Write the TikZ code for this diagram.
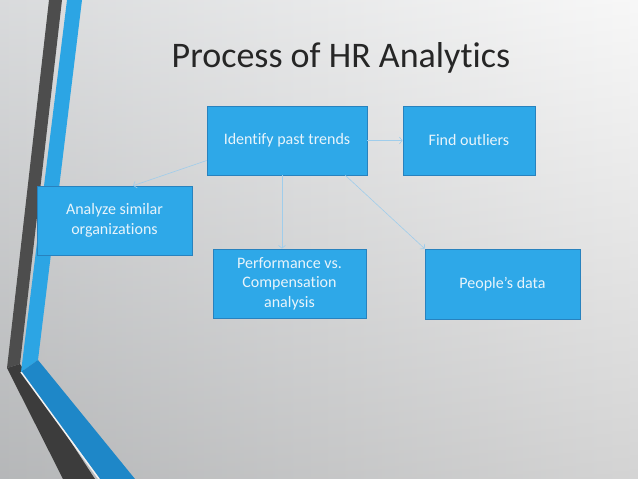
\documentclass[tikz,border=0pt]{standalone}
\usepackage{fontspec}
\setmainfont{Carlito}[Ligatures=NoCommon]
\usetikzlibrary{arrows.meta}
\definecolor{boxblue}{RGB}{46,168,232}
\definecolor{boxedge}{RGB}{40,130,190}
\definecolor{boxtext}{RGB}{232,244,251}
\definecolor{linkblue}{RGB}{160,205,235}
\definecolor{stripedark}{RGB}{77,77,77}
\definecolor{stripedarklow}{RGB}{60,60,60}
\definecolor{stripeblue}{RGB}{44,165,228}
\definecolor{stripebluelow}{RGB}{30,135,200}
\definecolor{backleft}{RGB}{208,210,212}
\definecolor{backright}{RGB}{246,246,246}
\tikzset{
  box/.style={shape=rectangle,draw=boxedge,fill=boxblue,text=boxtext,align=center,line width=0.6pt,minimum height=69pt,inner sep=0pt,font=\fontsize{16}{19.5}\selectfont},
  link/.style={-{Straight Barb[length=3pt,width=7pt]},draw=linkblue,line width=0.6pt}
}
\begin{document}
\begin{tikzpicture}[x=1pt,y=-1pt]
\shade[left color=backleft,right color=backright] (0,0) rectangle (638,479);
\shade[top color=white,bottom color=black!70,opacity=0.2] (0,0) rectangle (638,479);
\useasboundingbox (0,0) rectangle (638,479);

\fill[stripedark] (49,0) -- (62,0) -- (20,364) -- (7,368) -- cycle;
\fill[stripedarklow] (7,368) -- (20,364) -- (95,479) -- (63,479) -- cycle;
\fill[stripeblue] (67,0) -- (82,0) -- (38,360) -- (21,372) -- cycle;
\fill[stripebluelow] (21,372) -- (38,360) -- (135,479) -- (100,479) -- cycle;
\draw[white!90!gray,line width=1.5pt] (21,372) -- (99,479);

\node[font=\fontsize{36}{40}\selectfont,text=black!85,anchor=base] (title) at (341,67) {Process of HR Analytics};

\node[box,minimum width=160pt] (0) at (287,140.5) {Identify past trends};
\node[box,minimum width=132pt] (1) at (469,140.5) {Find outliers};
\node[box,minimum width=155pt] (2) at (114.5,220.5) {Analyze similar\\organizations};
\node[box,minimum width=153pt] (3) at (289.5,283.5) {Performance vs.\\Compensation\\analysis};
\node[box,minimum width=155pt,minimum height=70pt] (4) at (502.5,284) {People’s data};

\draw [link] (0) -- (1);
\draw [link] (0.194) -- (2.62);
\draw [link] ([xshift=-5pt]0.south) -- ([xshift=-7.5pt]3.north);
\draw [link] ([xshift=-22pt]0.south east) -- (4.north west);
\end{tikzpicture}
\end{document}
